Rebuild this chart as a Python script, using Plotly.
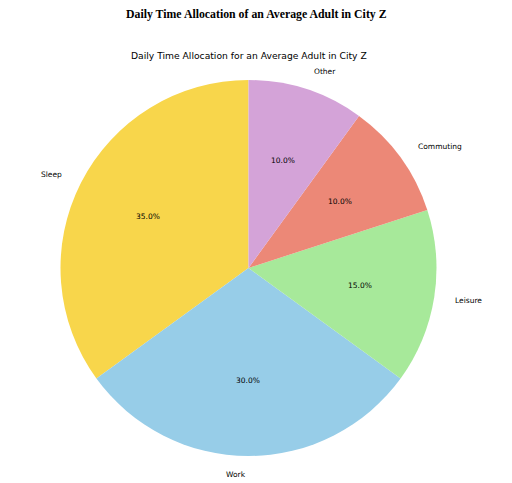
import math
import plotly.graph_objects as go

categories = ["Sleep", "Work", "Leisure", "Commuting", "Other"]
values = [35, 30, 15, 10, 10]
colors = ["#F8D64B", "#97CDE8", "#A7E99A", "#EC8877", "#D4A3D8"]

W, H = 512, 483
cx, cy, R = 248.5, 268.0, 188.0
dom_x = [(cx - R) / W, (cx + R) / W]
dom_y = [1 - (cy + R) / H, 1 - (cy - R) / H]

total = sum(values)
fig = go.Figure(go.Pie(
    labels=categories, values=values, sort=False,
    direction="counterclockwise", rotation=-360.0 * values[0] / total,
    marker=dict(colors=colors, line=dict(width=0)),
    textinfo="none", hoverinfo="label+percent",
    domain=dict(x=dom_x, y=dom_y), showlegend=False,
))

annotations = []
start = 90.0
for lab, v in zip(categories, values):
    span = 360.0 * v / total
    mid = math.radians(start + span / 2)
    start += span
    c, s = math.cos(mid), math.sin(mid)
    lx = (cx + 1.1 * R * c) / W
    ly = 1 - (cy - 1.1 * R * s) / H
    annotations.append(dict(
        x=lx, y=ly, xref="paper", yref="paper", text=lab, showarrow=False,
        xanchor="left" if c > 0 else "right", yanchor="middle",
        font=dict(family="DejaVu Sans", size=7.5, color="#000000")))
    px = (cx + 0.6 * R * c) / W
    py = 1 - (cy - 0.6 * R * s) / H
    annotations.append(dict(
        x=px, y=py, xref="paper", yref="paper", text=f"{100*v/total:.1f}%",
        showarrow=False, xanchor="center", yanchor="middle",
        font=dict(family="DejaVu Sans", size=7.5, color="#000000")))

annotations.append(dict(
    x=256 / W, y=1 - 14 / H, xref="paper", yref="paper",
    text="<b>Daily Time Allocation of an Average Adult in City Z</b>",
    showarrow=False, xanchor="center", yanchor="middle",
    font=dict(family="Liberation Serif", size=11.8, color="#000000")))
annotations.append(dict(
    x=249 / W, y=1 - 55 / H, xref="paper", yref="paper",
    text="Daily Time Allocation for an Average Adult in City Z",
    showarrow=False, xanchor="center", yanchor="middle",
    font=dict(family="DejaVu Sans", size=9.2, color="#000000")))

fig.update_layout(
    width=W, height=H, margin=dict(l=0, r=0, t=0, b=0),
    paper_bgcolor="white", plot_bgcolor="white",
    annotations=annotations,
)
fig.write_html("out.html",
               config={"displayModeBar": False},
               post_script="document.body.style.margin='0';document.body.style.overflow='hidden';")
